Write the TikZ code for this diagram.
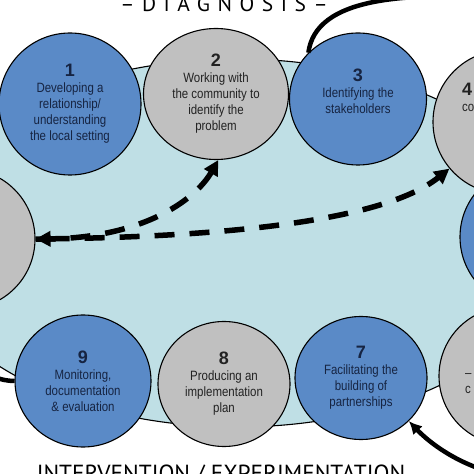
\documentclass[tikz,border=0pt]{standalone}
\usepackage{fontspec}
\usepackage{tikz}
\usetikzlibrary{shapes.geometric, arrows.meta, positioning, calc}
\newfontfamily\stepfont[FakeStretch=0.85]{Liberation Sans}
\newfontfamily\numfont{Liberation Sans}
\newfontfamily\titlefont[LetterSpace=35]{PT Sans}
\newfontfamily\phasefont{PT Sans}
\definecolor{stepblue}{RGB}{90, 138, 199}
\definecolor{stepgray}{RGB}{192, 192, 192}
\definecolor{cyclebg}{RGB}{191, 223, 229}
\definecolor{navytext}{RGB}{22, 36, 66}
\definecolor{darktext}{RGB}{34, 34, 34}
\newcommand{\stepnum}[1]{{\fontsize{18}{18}\numfont\bfseries #1}}
\tikzset{
  stepnode/.style={ellipse, draw=black, fill=#1, line width=1.1pt, align=center, inner sep=0pt, font=\fontsize{13.5}{16}\stepfont},
  bluestep/.style={stepnode=stepblue, text=navytext},
  graystep/.style={stepnode=stepgray, text=darktext},
  cuttext/.style={text=darktext, anchor=north west, align=left, inner sep=0pt, font=\fontsize{13.5}{16}\stepfont},
  cyclenode/.style={ellipse, draw=black, fill=cyclebg, line width=1.1pt, minimum width=640pt, minimum height=368pt},
  dasharrow/.style={line width=5.5pt, dash pattern=on 20pt off 15pt},
  looparrow/.style={line width=4.5pt},
  phasetitle/.style={font=#1, text=black, inner sep=0pt},
}

\begin{document}
\begin{tikzpicture}[x=1pt, y=1pt]
\useasboundingbox (0,0) rectangle (474,474);
\clip (0,0) rectangle (474,474);
\fill[white] (0,0) rectangle (474,474);

% the cycle
\node[cyclenode] (cycle) at (237,231) {};

% diagnosis steps
\node[bluestep, minimum width=142pt, minimum height=142pt] (n1) at (70,370)
  {\stepnum{1}\\Developing a\\relationship/\\understanding\\the local setting};
\node[graystep, minimum width=145pt, minimum height=131pt] (n2) at (216,380)
  {\stepnum{2}\\Working with\\the community to\\identify the\\problem};
\node[bluestep, minimum width=137pt, minimum height=132pt] (n3) at (358,375)
  {\stepnum{3}\\Identifying the\\stakeholders\\ \mbox{}};
\node[graystep, minimum width=144pt, minimum height=144pt] (n4) at (505,352) {};
\node[cuttext] (t4) at (462,391) {\stepnum{4}\\co};
\node[bluestep, minimum width=140pt, minimum height=140pt] (n5) at (530,237) {};

% intervention steps
\node[graystep, minimum width=138pt, minimum height=138pt] (n6) at (508,98) {};
\node[cuttext] (t6) at (465,101) {–\\c};
\node[bluestep, minimum width=132pt, minimum height=123pt] (n7) at (361,96)
  {\stepnum{7}\\Facilitating the\\building of\\partnerships};
\node[graystep, minimum width=132pt, minimum height=125pt] (n8) at (224,90)
  {\stepnum{8}\\Producing an\\implementation\\plan};
\node[bluestep, minimum width=136pt, minimum height=132pt] (n9) at (83,93)
  {\stepnum{9}\\Monitoring,\\documentation\\\& evaluation};
\node[graystep, minimum width=140pt, minimum height=140pt] (n10) at (-35,235) {};

% feedback arrows
\draw[dasharrow, {Triangle[length=15pt,width=15pt]}-{Triangle[length=15pt,width=15pt]}]
  (n10.east) .. controls +(165,2) and +(-70,-56) .. (n4.220);
\draw[dasharrow, -{Triangle[length=15pt,width=15pt]}]
  (n10.east) .. controls +(105,-2) and +(-23,-40) .. (n2.272);

% loops leaving the picture
\coordinate (topend) at (560,470);
\coordinate (bottomstart) at (540,-5);
\coordinate (leftend) at (-60,140);
\draw[looparrow] (n3.137) .. controls +(7,54) and +(-160,18) .. (topend);
\draw[looparrow, -{Latex[length=13pt,width=13pt]}] (bottomstart) .. controls +(-70,0) and +(18,-19) .. (n7.318);
\draw[looparrow] (n9.west) .. controls +(-30,0) and +(20,-20) .. (leftend);

% phase titles
\node[phasetitle=\fontsize{21.5}{21.5}\titlefont, anchor=base] (diagnosis) at (224,462) {–DIAGNOSIS–};
\node[phasetitle=\fontsize{23.3}{23.3}\phasefont, anchor=base] (intervention) at (221,-7) {INTERVENTION / EXPERIMENTATION};
\end{tikzpicture}
\end{document}
